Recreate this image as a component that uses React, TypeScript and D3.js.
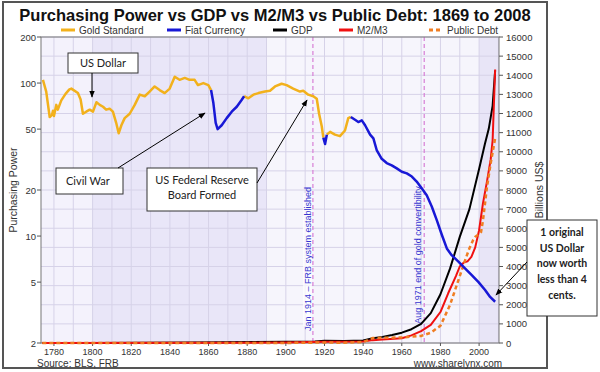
import React from 'react';
import * as d3 from 'd3';

// purchasing power of 1 dollar (log scale, left axis) split by monetary regime
const goldStandard1: [number, number][] = [
  [1774.3, 105], [1776, 88], [1777.8, 60], [1779, 62], [1779.5, 66], [1780, 61], [1781.2, 72], [1782, 67],
  [1783.8, 77], [1786, 85], [1788, 91], [1789, 92], [1792.4, 86], [1793.8, 78], [1795, 63], [1796.7, 65],
  [1798.5, 67], [1800.2, 65], [1802, 75], [1803.7, 72], [1805.4, 70], [1807, 67], [1808.8, 68], [1810.5, 65],
  [1812.2, 55], [1813.5, 47], [1814.9, 53], [1816.6, 59], [1819.2, 63], [1821.8, 72], [1824.4, 84], [1827, 82],
  [1829.5, 88], [1832.1, 95], [1834.7, 90], [1837.3, 86], [1839.9, 92], [1842.5, 110], [1845, 105], [1847.7, 108],
  [1850.2, 105], [1852.8, 105], [1854.5, 97], [1857.3, 100], [1859.9, 97], [1861.3, 90],
];
const fiat1: [number, number][] = [
  [1861.3, 90], [1862.5, 74], [1863.7, 55], [1864.7, 50], [1866.8, 53], [1869.4, 59], [1872, 65],
  [1874.6, 70], [1877.1, 77.5], [1878.4, 82],
];
const goldStandard2: [number, number][] = [
  [1878.4, 82], [1880.6, 79.5], [1883.2, 84], [1885.8, 86], [1889.2, 88], [1891.8, 89], [1894.4, 95],
  [1897.8, 99], [1900.4, 97], [1903.8, 92], [1907.3, 88], [1909, 89], [1911.6, 84], [1914.2, 82], [1916, 79],
  [1917.2, 63], [1918.6, 52], [1919.4, 44],
];
const fiat2: [number, number][] = [[1919.4, 44], [1920.3, 40], [1921.2, 46]];
const goldStandard3: [number, number][] = [
  [1921.2, 46], [1922.9, 48], [1925.4, 46], [1928, 45], [1930.6, 49], [1932.3, 59], [1933.6, 60],
];
const fiat3: [number, number][] = [
  [1933.6, 60], [1935.8, 57.5], [1937.5, 55.6], [1939.3, 57], [1941, 53], [1943.6, 46], [1945.3, 43.5],
  [1947, 36.5], [1949.6, 32], [1952.2, 30], [1954.8, 29], [1957.4, 27.7], [1960, 26.3], [1962.6, 25.7],
  [1965.2, 24.5], [1967.7, 22.7], [1970.3, 20.5], [1972.9, 18.5], [1975.5, 15.6], [1978.1, 12.7],
  [1980.7, 10.2], [1983.3, 8.3], [1985.8, 7.5], [1989.3, 6.8], [1992.7, 6.15], [1996.2, 5.56],
  [1999.7, 5.0], [2003.1, 4.44], [2005.7, 4.0], [2008.3, 3.72],
];

// billions US$ (right axis)
const gdpYears = [1774, 1800, 1850, 1900, 1915, 1920, 1930, 1940, 1945, 1950, 1955, 1960, 1965, 1970, 1975, 1980, 1985, 1990, 1995, 2000, 2003, 2005, 2007, 2008.3];
const gdpValues = [0, 5, 20, 60, 80, 120, 100, 130, 250, 320, 420, 540, 720, 1000, 1560, 2550, 3900, 5550, 7000, 9100, 10400, 11200, 12400, 14250];
const m2Years = [1774, 1900, 1920, 1940, 1945, 1950, 1960, 1965, 1970, 1975, 1980, 1984, 1988, 1990, 1992, 1994, 1996, 1998, 2000, 2002, 2004, 2006, 2007, 2008.3];
const m2Values = [0, 20, 60, 80, 150, 180, 250, 400, 620, 950, 1620, 2600, 3500, 4000, 4200, 4270, 4500, 5000, 5900, 7300, 8400, 9600, 10600, 14300];
const debtYears = [1774, 1900, 1918, 1920, 1930, 1940, 1945, 1960, 1970, 1975, 1980, 1985, 1990, 1993, 1995, 1997, 1998, 2000, 2001, 2002, 2004, 2006, 2008.3];
const debtValues = [0, 2, 25, 25, 16, 50, 260, 290, 370, 540, 900, 2000, 3500, 4400, 4950, 5400, 5550, 5700, 5800, 6400, 8100, 9400, 10700];

const leftTicks = [2, 5, 10, 20, 50, 100, 200];
const rightTicks = d3.range(0, 16001, 1000);
const yearTicks = d3.range(1780, 2001, 20);
const yearGrid = d3.range(1780, 2011, 10);
const legendItems = ['Gold Standard', 'Fiat Currency', 'GDP', 'M2/M3', 'Public Debt'];
const calloutLines = ['1 original', 'US Dollar', 'now worth', 'less than 4', 'cents.'];

const GOLD = '#f2b11c';
const BLUE = '#1818d6';
const RED = '#f01010';
const DEBT = '#f07d22';
const FONT = 'Liberation Sans, Arial, sans-serif';
const NOTE_FONT = 'Lato, Open Sans, sans-serif';

export default function App() {
  const left = 41, right = 499, top = 37, bottom = 343;
  const x = d3.scaleLinear().domain([1773.3, 2010.3]).range([left, right]);
  const yL = d3.scaleLog().domain([2, 200]).range([bottom, top]);
  const yR = d3.scaleLinear().domain([0, 16000]).range([bottom, top]);

  const ppLine = d3.line<[number, number]>().x(d => x(d[0])).y(d => yL(d[1]));
  const moneyLine = (years: number[], vals: number[]) =>
    d3.line<number>().x((_, i) => x(years[i])).y(d => yR(d))(vals) || '';

  const bands: [number, number, string][] = [
    [1773.3, 1800, '#f4f2fc'], [1800, 1890, '#e9e6f8'], [1890, 2000, '#f6f5fc'], [2000, 2010.3, '#e8e5f7'],
  ];

  const legendX = [61, 167, 273, 339, 429];
  const legendColors = [GOLD, BLUE, '#000', RED, DEBT];

  return (
    <div style={{ position: 'absolute', left: 0, top: 0 }}>
      <svg width={600} height={372} style={{ display: 'block', background: '#fff' }} fontFamily={FONT}>
        <defs>
          <marker id="ah" viewBox="0 0 10 10" refX="9" refY="5" markerWidth="7" markerHeight="7" orient="auto">
            <path d="M0,1 L10,5 L0,9 z" fill="#000" />
          </marker>
        </defs>
        <rect x={3} y={2} width={544} height={366} fill="#fff" stroke="#555" strokeWidth={2} />

        <text x={275} y={21} textAnchor="middle" fontSize={16.5} fontWeight="bold" fill="#111">
          Purchasing Power vs GDP vs M2/M3 vs Public Debt: 1869 to 2008
        </text>

        {legendItems.map((name, i) => (
          <g key={name} transform={`translate(${legendX[i]},30)`}>
            <line x1={0} x2={14} y1={0} y2={0} stroke={legendColors[i]} strokeWidth={3}
              strokeDasharray={i === 4 ? '4,3' : undefined} />
            <text x={18} y={3.5} fontSize={10} fill="#333">{name}</text>
          </g>
        ))}

        {bands.map(([a, b, c]) => (
          <rect key={a} x={x(a)} y={top} width={x(b) - x(a)} height={bottom - top} fill={c} />
        ))}

        {yearGrid.map(yr => (
          <line key={yr} x1={x(yr)} x2={x(yr)} y1={top} y2={bottom} stroke="#d6d2e8" strokeWidth={1} />
        ))}
        {rightTicks.map(v => (
          <line key={v} x1={left} x2={right} y1={yR(v)} y2={yR(v)} stroke="#d6d2e8" strokeWidth={1} />
        ))}

        {[1914, 1971.6].map(yr => (
          <line key={yr} x1={x(yr)} x2={x(yr)} y1={top} y2={bottom} stroke="#d77fd6" strokeWidth={1.2} strokeDasharray="4,3" />
        ))}
        <rect x={x(1914) - 10} y={193} width={9} height={133} fill="#fff" opacity={0.7} />
        <text transform={`translate(${x(1914) - 2},259) rotate(-90)`} textAnchor="middle" fontSize={9} fill="#3636d0">
          Jan 1914 – FRB system established
        </text>
        <text transform={`translate(${x(1971.6) - 3},255) rotate(-90)`} textAnchor="middle" fontSize={9} fill="#3636d0">
          Aug 1971 end of gold convertibility
        </text>

        <rect x={left} y={top} width={right - left} height={bottom - top} fill="none" stroke="#777" strokeWidth={1} />

        {/* axes */}
        {leftTicks.map(v => (
          <g key={v}>
            <line x1={left - 4} x2={left} y1={yL(v)} y2={yL(v)} stroke="#555" />
            <text x={left - 5} y={yL(v) + 3.5} textAnchor="end" fontSize={9.5} fill="#333">{v}</text>
          </g>
        ))}
        {rightTicks.map(v => (
          <g key={v}>
            <line x1={right} x2={right + 4} y1={yR(v)} y2={yR(v)} stroke="#555" />
            <text x={right + 7} y={yR(v) + 3.5} fontSize={9.5} fill="#333">{v}</text>
          </g>
        ))}
        {yearTicks.map(yr => (
          <g key={yr}>
            <line x1={x(yr)} x2={x(yr)} y1={bottom} y2={bottom + 3} stroke="#555" />
            <text x={x(yr)} y={bottom + 11.5} textAnchor="middle" fontSize={9} fill="#333">{yr}</text>
          </g>
        ))}
        <text transform={`translate(17,${(top + bottom) / 2}) rotate(-90)`} textAnchor="middle" fontSize={10.5} fill="#333">
          Purchasing Power
        </text>
        <text transform={`translate(543,${(top + bottom) / 2}) rotate(-90)`} textAnchor="middle" fontSize={10.5} fill="#333">
          Billions US$
        </text>
        <text x={37} y={366.5} fontSize={10} fill="#333">Source: BLS, FRB</text>
        <text x={458} y={366.5} textAnchor="middle" fontSize={10} fill="#333">www.sharelynx.com</text>

        {/* money series */}
        <path d={moneyLine(gdpYears, gdpValues)} fill="none" stroke="#000" strokeWidth={2} strokeLinejoin="round" />
        <path d={moneyLine(m2Years, m2Values)} fill="none" stroke={RED} strokeWidth={2} strokeLinejoin="round" />
        <path d={moneyLine(debtYears, debtValues)} fill="none" stroke={DEBT} strokeWidth={2.5} strokeDasharray="4,3" />

        {/* purchasing power */}
        {[goldStandard1, goldStandard2, goldStandard3].map((seg, i) => (
          <path key={'g' + i} d={ppLine(seg) || ''} fill="none" stroke={GOLD} strokeWidth={2.5} strokeLinejoin="round" />
        ))}
        {[fiat1, fiat2, fiat3].map((seg, i) => (
          <path key={'f' + i} d={ppLine(seg) || ''} fill="none" stroke={BLUE} strokeWidth={2.5} strokeLinejoin="round" />
        ))}

        {/* annotations */}
        <g fontFamily={NOTE_FONT} fill="#222">
          <rect x={68} y={53} width={70} height={20} fill="#fff" stroke="#333" />
          <text x={103} y={67} textAnchor="middle" fontSize={11}>US Dollar</text>
          <line x1={92} y1={73} x2={92} y2={97} stroke="#000" strokeWidth={1} markerEnd="url(#ah)" />

          <rect x={56} y={168} width={67} height={26} fill="#fff" stroke="#333" />
          <text x={66} y={185} fontSize={11}>Civil War</text>
          <line x1={118} y1={168} x2={205} y2={113} stroke="#000" strokeWidth={1} markerEnd="url(#ah)" />

          <rect x={147} y={168} width={110} height={43} fill="#fff" stroke="#333" />
          <text x={202} y={184} textAnchor="middle" fontSize={11}>US Federal Reserve</text>
          <text x={202} y={199} textAnchor="middle" fontSize={11}>Board Formed</text>
          <line x1={257} y1={183} x2={307} y2={100} stroke="#000" strokeWidth={1} markerEnd="url(#ah)" />

          <rect x={527} y={220} width={70} height={96} fill="#fff" stroke="#333" />
          {calloutLines.map((t, i) => (
            <text key={t} x={562} y={236 + i * 15.7} textAnchor="middle" fontSize={10.5} fontWeight="bold">{t}</text>
          ))}
          <line x1={527} y1={262} x2={496} y2={295} stroke="#000" strokeWidth={1} markerEnd="url(#ah)" />
        </g>
      </svg>
    </div>
  );
}
